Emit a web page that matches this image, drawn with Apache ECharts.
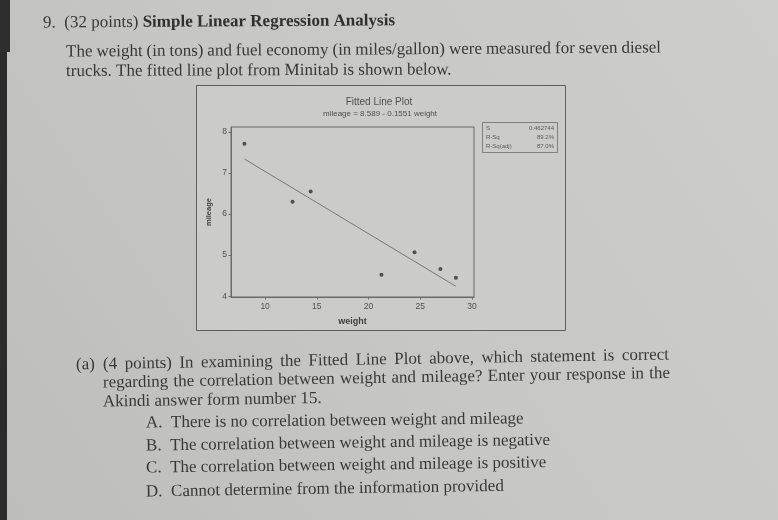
<!DOCTYPE html>
<html>
<head>
<meta charset="utf-8">
<script src="https://cdn.jsdelivr.net/npm/echarts@6/dist/echarts.min.js"></script>
<style>
html,body{margin:0;padding:0;background:#c6c6c4;}
#c{width:778px;height:520px;}
</style>
</head>
<body>
<div id="c"></div>
<script>
// Data
const weight = [8.0, 12.65, 14.4, 21.25, 24.45, 26.95, 28.45];
const mileage = [7.71, 6.30, 6.55, 4.52, 5.07, 4.66, 4.45];
const fitWeight = [8.0, 28.45];
const fitMileage = [7.34, 4.24];
const xTicks = [10, 15, 20, 25, 30];
const yTicks = [4, 5, 6, 7, 8];
const statLabels = ['S', 'R-Sq', 'R-Sq(adj)'];
const statValues = ['0.462744', '89.2%', '87.0%'];

const chart = echarts.init(document.getElementById('c'), null, {renderer: 'canvas'});

const SERIF = '"Liberation Serif", "DejaVu Serif", serif';
const SANS = '"Liberation Sans", Arial, sans-serif';
const TXT = '#383838';
const FS = 17;

const mctx = document.createElement('canvas').getContext('2d');
function measure(t, font) { mctx.font = font; return mctx.measureText(t).width; }

// plain line of page text, with the photo's slight tilt
function line(x, y, text, tilt) {
  return {type: 'text', x: x, y: y, rotation: tilt, z: 50,
    style: {text: text, fill: TXT, font: FS + 'px ' + SERIF, textVerticalAlign: 'middle'}};
}
// justified line: words spread between x0 and x1
function justified(x0, x1, y, text, tilt) {
  const font = FS + 'px ' + SERIF;
  const words = text.split(' ');
  const total = words.reduce(function (s, w) { return s + measure(w, font); }, 0);
  const gap = (x1 - x0 - total) / (words.length - 1);
  const out = [];
  let x = x0;
  words.forEach(function (w) {
    out.push({type: 'text', x: x, y: y - (x - x0) * Math.tan(tilt), rotation: tilt, z: 50,
      style: {text: w, fill: TXT, font: font, textVerticalAlign: 'middle'}});
    x += measure(w, font) + gap;
  });
  return out;
}

let graphics = [
  // paper background
  {type: 'rect', z: -100, silent: true, shape: {x: 0, y: 0, width: 778, height: 520},
    style: {fill: new echarts.graphic.LinearGradient(0, 1, 1, 0, [
      {offset: 0, color: '#bdbdbb'}, {offset: 0.5, color: '#c7c7c5'}, {offset: 1, color: '#cdcdcb'}])}},
  {type: 'rect', z: -99, silent: true, shape: {x: 0, y: 0, width: 7, height: 520}, style: {fill: '#2b2b2b'}},
  {type: 'rect', z: -99, silent: true, shape: {x: 0, y: 0, width: 10, height: 52}, style: {fill: '#2e2e2e'}},
  // Minitab graph window frame
  {type: 'rect', z: -50, silent: true, shape: {x: 196.5, y: 85.5, width: 369, height: 245},
    style: {fill: '#cbcbc9', stroke: '#5e5e5e', lineWidth: 1}},
  // stats box
  {type: 'rect', z: 40, silent: true, shape: {x: 482.5, y: 122.5, width: 75, height: 30},
    style: {fill: 'transparent', stroke: '#808080', lineWidth: 1}},
  // heading
  {type: 'text', x: 43, y: 23, rotation: 0.006, z: 50,
    style: {text: '{n|9.  (32 points) }{b|Simple Linear Regression Analysis}', textVerticalAlign: 'middle',
      rich: {n: {font: FS + 'px ' + SERIF, fill: TXT}, b: {font: 'bold ' + FS + 'px ' + SERIF, fill: '#303030'}}}}
];
graphics = graphics.concat(
  justified(66, 661, 52, 'The weight (in tons) and fuel economy (in miles/gallon) were measured for seven diesel', 0.0067),
  [line(66, 71.5, 'trucks. The fitted line plot from Minitab is shown below.', 0.004),
   line(76, 365, '(a)', 0.017)],
  justified(103, 669, 364.5, '(4 points) In examining the Fitted Line Plot above, which statement is correct', 0.0168),
  justified(103, 670, 383, 'regarding the correlation between weight and mileage? Enter your response in the', 0.0168),
  [line(103, 402, 'Akindi answer form number 15.', 0.016),
   line(146, 423, 'A.  There is no correlation between weight and mileage', 0.011),
   line(146, 446, 'B.  The correlation between weight and mileage is negative', 0.014),
   line(146, 468, 'C.  The correlation between weight and mileage is positive', 0.013),
   line(146, 492, 'D.  Cannot determine from the information provided', 0.016)],
  [
    {type: 'text', x: 379, y: 102, z: 50,
      style: {text: 'Fitted Line Plot', fill: '#505050', font: '10px ' + SANS, textAlign: 'center', textVerticalAlign: 'middle'}},
    {type: 'text', x: 380, y: 114, z: 50,
      style: {text: 'mileage = 8.589 - 0.1551 weight', fill: '#505050', font: '8px ' + SANS, textAlign: 'center', textVerticalAlign: 'middle'}}
  ]
);

statLabels.forEach(function (lab, i) {
  graphics.push({type: 'text', x: 486, y: 128 + i * 9, z: 50,
    style: {text: lab, fill: '#5a5a5a', font: '6px ' + SANS, textVerticalAlign: 'middle'}});
  graphics.push({type: 'text', x: 554, y: 128 + i * 9, z: 50,
    style: {text: statValues[i], fill: '#5a5a5a', font: '6px ' + SANS, textAlign: 'right', textVerticalAlign: 'middle'}});
});

const option = {
  backgroundColor: 'transparent',
  animation: false,
  graphic: graphics,
  grid: {left: 231, right: 304, top: 127, bottom: 223, show: true,
    borderColor: '#6a6a6a', borderWidth: 1, backgroundColor: 'transparent'},
  xAxis: {
    type: 'value', min: 6.7, max: 30.2,
    name: 'weight', nameLocation: 'middle', nameGap: 20,
    nameTextStyle: {color: '#404040', fontSize: 9, fontWeight: 'bold', fontFamily: SANS},
    axisLine: {show: true, onZero: false, lineStyle: {color: '#6a6a6a', width: 1}},
    axisTick: {show: true, length: 2.5, customValues: xTicks, lineStyle: {color: '#6a6a6a'}},
    axisLabel: {customValues: xTicks, color: '#505050', fontSize: 8.5, margin: 5, fontFamily: SANS},
    splitLine: {show: false}
  },
  yAxis: {
    type: 'value', min: 3.98, max: 8.12,
    name: 'mileage', nameLocation: 'middle', nameGap: 18, nameRotate: 90,
    nameTextStyle: {color: '#404040', fontSize: 7.5, fontWeight: 'bold', fontFamily: SANS},
    axisLine: {show: true, onZero: false, lineStyle: {color: '#6a6a6a', width: 1}},
    axisTick: {show: true, length: 2.5, customValues: yTicks, lineStyle: {color: '#6a6a6a'}},
    axisLabel: {customValues: yTicks, color: '#505050', fontSize: 8.5, margin: 4, fontFamily: SANS},
    splitLine: {show: false}
  },
  series: [
    {type: 'line', data: fitWeight.map(function (w, i) { return [w, fitMileage[i]]; }),
      symbol: 'none', lineStyle: {color: '#777', width: 1}, z: 3, silent: true},
    {type: 'scatter', data: weight.map(function (w, i) { return [w, mileage[i]]; }),
      symbol: 'circle', symbolSize: 4, itemStyle: {color: '#303030'}, z: 4, silent: true}
  ]
};
chart.setOption(option);
</script>
</body>
</html>
